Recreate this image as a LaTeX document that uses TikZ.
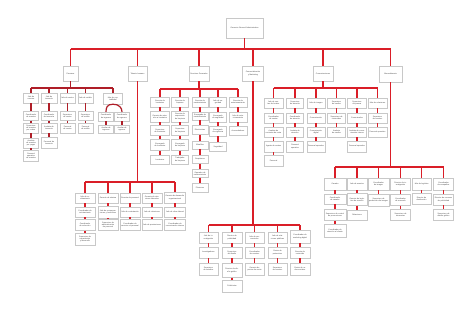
\documentclass[tikz,border=0pt]{standalone}
\usepackage{fontspec}
\setmainfont{Liberation Sans}
\newfontfamily\boxfont[Color=464646]{Liberation Sans}
\definecolor{lnred}{RGB}{218,30,40}
\definecolor{lndark}{RGB}{175,30,40}
\definecolor{bxgray}{RGB}{200,200,200}
\tikzset{
 bx/.style={draw=bxgray, fill=white, line width=0.4pt, inner sep=0.4pt, align=center, font=\boxfont\fontsize{1.9}{2.2}\selectfont},
 lvone/.style={bx, minimum height=15pt},
 ln/.style={color=lnred, line width=1.5pt},
 lnfin/.style={color=lndark, line width=1.2pt},
 lnthick/.style={color=lnred, line width=1.9pt},
}
\newcommand\bxcol[5][ln]{%
 \pgfmathsetmacro\bW{#4-2}%
 \foreach \bY/\bH/\bT [count=\bI] in {#5}{%
  \node[bx, minimum width=#4pt, minimum height=\bH pt, text width=\bW pt] (#2-\bI) at (#3,\bY) {\bT};
  \ifnum\bI>1 \pgfmathtruncatemacro\bP{\bI-1}\draw[#1] (#2-\bP.south) -- (#2-\bI.north);\fi
 }}
\begin{document}
\begin{tikzpicture}[x=1pt,y=-1pt]
\fill[white] (0,0) rectangle (474,316);
\useasboundingbox (0,0) rectangle (474,316);
% top and level one
\node[bx, minimum width=37pt, minimum height=20pt, text width=35pt] (top) at (244.5,28) {Gerencia General Administrativa};
\node[lvone, minimum width=15pt, text width=13pt] (fin) at (70.5,73.5) {Finanzas};
\node[lvone, minimum width=19pt, text width=17pt] (th) at (137.5,73.5) {Talento humano};
\node[lvone, minimum width=20pt, text width=18pt] (sg) at (199,73.5) {Servicios Generales};
\node[lvone, minimum width=21pt, text width=19pt] (cm) at (253,73.5) {Comercialización y Marketing};
\node[lvone, minimum width=20pt, text width=18pt] (co) at (323,73.5) {Comunicaciones};
\node[lvone, minimum width=23pt, minimum height=16pt, text width=21pt] (me) at (390.5,74) {Mercadotecnia};
\coordinate (b0) at (0,49);
\draw[lnthick] (top.south) -- (top.south |- b0);
\draw[lnthick] (fin.north |- b0) -- (me.north |- b0);
\foreach \n in {fin,th,sg,cm,co,me} \draw[lnthick] (\n.north |- b0) -- (\n.north);
% Finanzas
\bxcol[lnfin]{f1}{31}{15}{98/10/Jefe de cuentas, 116/9/Coordinador de cuentas, 128/10/Supervisor de cuentas por cobrar, 143/10/Analista de cuentas por pagar, 156/11/Personal operativo de cuentas}
\bxcol[lnfin]{f2}{49}{16}{98/10/Jefe de tesorería, 116/9/Coordinador de tesorería, 128/10/Analista de tesorería, 143/11/Personal de tesorería}
\bxcol[lnfin]{f3}{67.5}{15}{98/10/Jefe de costos, 116/9/Supervisor de costos, 128/10/Personal de costos}
\bxcol[lnfin]{f4}{85.5}{15}{98/10/Jefe de crédito, 116/9/Supervisor de crédito, 128/10/Personal de crédito}
\bxcol[lnfin]{f5}{113}{19}{98.5/11/Jefe de contabilidad}
\bxcol[lnfin]{fa}{106}{15}{116.5/9/Coordinador de ingresos, 129/8/Auxiliar de ingresos}
\bxcol[lnfin]{fb}{122}{15}{116.5/9/Coordinador de egresos, 129/8/Auxiliar de egresos}
\coordinate (bF) at (0,88);
\draw[lnfin] (fin.south) -- (fin.south |- bF);
\draw[lnfin] (f1-1.north |- bF) -- (f5-1.north |- bF);
\foreach \n in {f1,f2,f3,f4,f5} \draw[lnfin] (\n-1.north |- bF) -- (\n-1.north);
\draw[lnfin] (f5-1.south) .. controls +(-6,0) and +(0,-4) .. (fa-1.north);
\draw[lnfin] (f5-1.south) .. controls +(6,0) and +(0,-4) .. (fb-1.north);
% Talento humano
\bxcol{t1}{85}{20}{198/10/Jefe de reclutamiento, 212/10/Coordinador de reclutamiento, 225/11/Coordinador de selección, 239/12/Supervisor de capacitación y desarrollo}
\bxcol{t2}{108}{20}{198/10/Gerente de nómina, 212/12/Jefe de compensaciones y beneficios, 225/11/Supervisor de administración de personal}
\bxcol{t3}{130}{20}{198/10/Gerente de personal, 212/10/Jefe de contratación, 225/11/Coordinador de servicios al personal}
\bxcol{t4}{152}{20}{198/10/Gerente de relaciones laborales, 212/10/Jefe de relaciones, 225/11/Jefe de prestaciones}
\bxcol{t5}{175}{21}{197.5/11/Gerente de desarrollo organizacional, 212/10/Jefe de clima laboral, 225/11/Coordinador de comunicación interna}
\coordinate (bT) at (0,182);
\draw[ln] (th.south) -- (th.south |- bT);
\draw[ln] (t1-1.north |- bT) -- (t5-1.north |- bT);
\foreach \n in {t1,t2,t3,t4,t5} \draw[ln] (\n-1.north |- bT) -- (\n-1.north);
% Servicios Generales
\bxcol{s1}{160}{19}{102/10/Gerente de locatarios, 116.5/11/Gerente de atención a locatarios, 130.5/10/Supervisor de locatarios, 145/11/Encargado de locatarios, 159.5/9/Locatarios}
\bxcol{s2}{180}{17}{102/10/Gerente de limpieza, 116.5/11/Gerente de supervisión de limpieza, 130.5/10/Supervisor de limpieza, 145/11/Encargado de limpieza, 159.5/9/Trabajador de limpieza}
\bxcol{s3}{200}{16}{102/10/Gerente de mantenimiento, 116/8/Encargado de mantenimiento, 130/9/Electricistas, 145/8/Albañiles, 159.5/8/Carpinteros, 173.5/8/Operador de mantenimiento, 187.5/9/Plomeros}
\bxcol{s4}{218}{17}{102/10/Jefe de seguridad, 117/10/Encargado de seguridad, 131/10/Encargado de vigilancia, 147/9/Seguridad}
\bxcol{s5}{238}{18}{102/10/Gerente de estacionamiento, 117/10/Jefe de estacionamiento, 131/9/Acomodadores}
\coordinate (bS) at (0,89);
\draw[ln] (sg.south) -- (sg.south |- bS);
\draw[ln] (s1-1.north |- bS) -- (s5-1.north |- bS);
\foreach \n in {s1,s2,s3,s4,s5} \draw[ln] (\n-1.north |- bS) -- (\n-1.north);
% Comunicaciones
\bxcol{c1}{273.5}{19}{103/10/Jefe de ventas de locales, 118/10/Coordinador de ventas, 132/10/Analista de contratos de renta, 146.5/11/Agente de ventas, 161/11/Personal}
\bxcol{c2}{295}{17}{103/10/Supervisor de atención, 118/10/Coordinador de atención, 132/10/Analista de atención, 146.5/11/Personal operativo}
\bxcol{c3}{316}{18}{103/10/Jefe de imagen, 118/10/Comunicación, 132/10/Comunicación digital, 146.5/11/Personal operativo}
\bxcol{c4}{336.5}{18}{103/10/Supervisor de medios, 118/10/Supervisor de contenidos, 132/10/Analista de medios}
\bxcol{c5}{357}{19}{103/10/Supervisor de prensa, 118/10/Comunicados, 132/10/Analista de comunicación interna, 146.5/11/Personal operativo}
\bxcol{c6}{377.5}{19}{103/10/Jefe de relaciones, 118/10/Supervisor de eventos, 132/10/Personal operativo}
\coordinate (bO) at (0,88);
\draw[ln] (co.south) -- (co.south |- bO);
\draw[ln] (c1-1.north |- bO) -- (c6-1.north |- bO);
\foreach \n in {c1,c2,c3,c4,c5,c6} \draw[ln] (\n-1.north |- bO) -- (\n-1.north);
% Comercializacion
\bxcol{k1}{208.5}{19}{237.5/11/Jefe de investigación, 252.5/11/Investigadores, 269/12/Supervisor de estudios}
\bxcol{k2}{232}{20}{237.5/11/Director de publicidad, 252.5/11/Supervisor de diseño, 270.5/14/Director de diseño gráfico, 286/12/Publicistas}
\bxcol{k3}{254.5}{19}{237.5/11/Jefe de promociones, 252.5/11/Coordinador de eventos, 269/12/Gerente de puntos de venta}
\bxcol{k4}{277.5}{19}{237.5/11/Jefe de relaciones públicas, 252.5/11/Gestor de patrocinios, 269/12/Supervisor de eventos}
\bxcol{k5}{300}{20}{236.5/13/Coordinador de marketing digital, 252.5/11/Gerente de contenido, 269/12/Gestor de redes sociales}
\coordinate (bK) at (0,225);
\draw[ln] (cm.south) -- (cm.south |- bK);
\draw[ln] (k1-1.north |- bK) -- (k5-1.north |- bK);
\foreach \n in {k1,k2,k3,k4,k5} \draw[ln] (\n-1.north |- bK) -- (\n-1.north);
% Mercadotecnia
\bxcol{m1}{335}{22}{184/12/Canales, 199/10/Coordinador de canales, 215/11/Supervisor de control de promociones, 230.5/13/Coordinador de atención al cliente}
\bxcol{m2}{357}{20}{184/12/Jefe de eventos, 199.5/12/Gerente de logística de eventos, 215/10/Relaciones}
\bxcol{m3}{378.5}{21}{184/12/Coordinador de imagen, 200/12/Supervisor de producción de imagen}
\bxcol{m4}{400.5}{20}{184/12/Director de investigación, 200/11/Coordinador de mercado, 215/11/Supervisor de encuestas}
\bxcol{m5}{421.5}{19}{184/12/Jefe de logística, 198.5/11/Director de distribución}
\bxcol{m6}{443.5}{20}{184/12/Coordinador de campañas, 199.5/11/Director de recursos de publicidad, 215/11/Supervisor de diseño gráfico}
\coordinate (bM) at (0,167);
\draw[ln] (me.south) -- (me.south |- bM);
\draw[ln] (m1-1.north |- bM) -- (m6-1.north |- bM);
\foreach \n in {m1,m2,m3,m4,m5,m6} \draw[ln] (\n-1.north |- bM) -- (\n-1.north);
\end{tikzpicture}
\end{document}
